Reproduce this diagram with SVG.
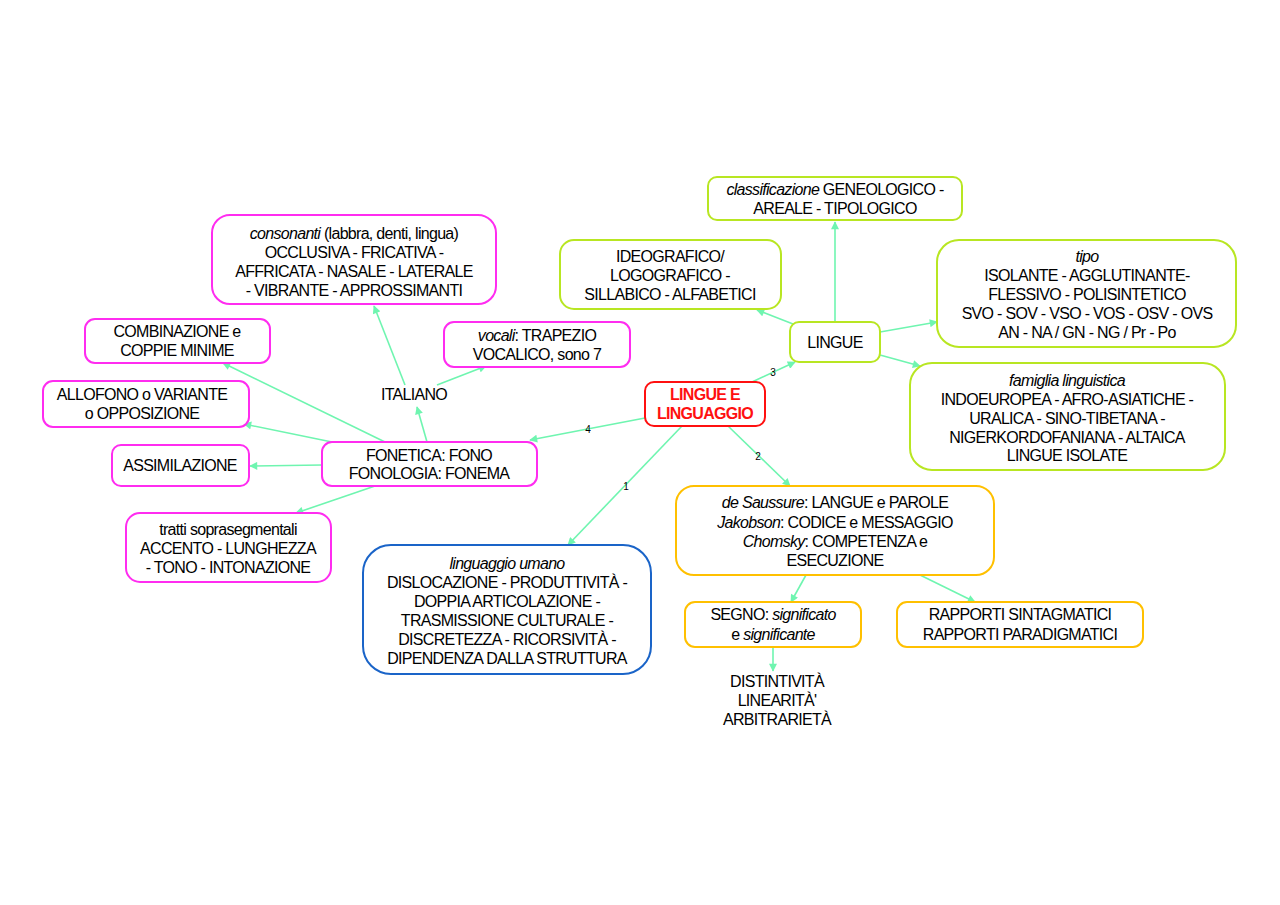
<svg xmlns="http://www.w3.org/2000/svg" width="1280" height="905" viewBox="0 0 1280 905">
<style>
text{font-family:"Liberation Sans",Arial,sans-serif;font-size:16px;fill:#000;text-anchor:middle;letter-spacing:-0.7px}
.g rect{fill:#fff;stroke:#b8e622;stroke-width:2}
.m rect{fill:#fff;stroke:#ff2cf0;stroke-width:2}
.o rect{fill:#fff;stroke:#ffc000;stroke-width:2}
.b rect{fill:#fff;stroke:#1a64c8;stroke-width:2}
.r rect{fill:#fff;stroke:#ff1010;stroke-width:2}
.e line{stroke:#6ff5b0;stroke-width:1.6;marker-end:url(#a)}
.l{font-size:10px;letter-spacing:0}
</style>
<defs><marker id="a" viewBox="0 0 10 10" refX="9" refY="5" markerWidth="10" markerHeight="8" orient="auto" markerUnits="userSpaceOnUse"><path d="M0,0L10,5L0,10z" fill="#6ff5b0"/></marker></defs>
<rect width="1280" height="905" fill="#fff"/>
<g id="edges" class="e">
<line x1="752" y1="382" x2="795" y2="362"/>
<line x1="645" y1="418" x2="530" y2="440"/>
<line x1="682" y1="426" x2="568" y2="545"/>
<line x1="728" y1="426" x2="790" y2="486"/>
<line x1="835" y1="322" x2="835" y2="222"/>
<line x1="793" y1="324" x2="757" y2="310"/>
<line x1="880" y1="332" x2="937" y2="322"/>
<line x1="880" y1="355" x2="920" y2="366"/>
<line x1="427" y1="442" x2="417" y2="407"/>
<line x1="405" y1="385" x2="374" y2="306"/>
<line x1="437" y1="385" x2="486" y2="366"/>
<line x1="385" y1="442" x2="223" y2="363"/>
<line x1="332" y1="442" x2="244" y2="424"/>
<line x1="322" y1="465" x2="250" y2="466"/>
<line x1="375" y1="486" x2="296" y2="513"/>
<line x1="806" y1="575" x2="791" y2="602"/>
<line x1="920" y1="575" x2="975" y2="602"/>
<line x1="773" y1="647" x2="773" y2="671"/>
</g>
<g id="edgelabels">
<text class="l" x="773" y="376">3</text>
<text class="l" x="588" y="433">4</text>
<text class="l" x="626" y="490">1</text>
<text class="l" x="758" y="460">2</text>
</g>
<g id="center" class="r"><rect x="645" y="382" width="120" height="44" rx="9"/><text x="705" y="400" style="fill:#ff1010;font-weight:bold">LINGUE E</text><text x="705" y="419" style="fill:#ff1010;font-weight:bold">LINGUAGGIO</text></g>
<g id="lingue" class="g"><rect x="790" y="322" width="90" height="40" rx="9"/><text x="835" y="348">LINGUE</text></g>
<g id="classif" class="g"><rect x="708" y="177" width="254" height="43" rx="9"/><text x="835" y="195"><tspan font-style="italic">classificazione</tspan> GENEOLOGICO -</text><text x="835" y="214">AREALE - TIPOLOGICO</text></g>
<g id="ideo" class="g"><rect x="560" y="240" width="221" height="69" rx="14"/><text x="670" y="262">IDEOGRAFICO/</text><text x="670" y="281">LOGOGRAFICO -</text><text x="670" y="300">SILLABICO - ALFABETICI</text></g>
<g id="tipo" class="g"><rect x="937" y="240" width="299" height="107" rx="22"/><text x="1087" y="262" font-style="italic">tipo</text><text x="1087" y="281">ISOLANTE - AGGLUTINANTE-</text><text x="1087" y="300">FLESSIVO  - POLISINTETICO</text><text x="1087" y="319">SVO - SOV - VSO - VOS - OSV - OVS</text><text x="1087" y="338">AN - NA / GN - NG / Pr - Po</text></g>
<g id="famiglia" class="g"><rect x="910" y="363" width="315" height="107" rx="22"/><text x="1067" y="386" font-style="italic">famiglia linguistica</text><text x="1067" y="405">INDOEUROPEA - AFRO-ASIATICHE -</text><text x="1067" y="424">URALICA - SINO-TIBETANA -</text><text x="1067" y="443">NIGERKORDOFANIANA - ALTAICA</text><text x="1067" y="461">LINGUE ISOLATE</text></g>
<g id="consonanti" class="m"><rect x="212" y="215" width="284" height="89" rx="18"/><text x="354" y="239"><tspan font-style="italic">consonanti</tspan> (labbra, denti, lingua)</text><text x="354" y="258">OCCLUSIVA - FRICATIVA -</text><text x="354" y="277">AFFRICATA - NASALE - LATERALE</text><text x="354" y="296">- VIBRANTE - APPROSSIMANTI</text></g>
<g id="vocali" class="m"><rect x="444" y="322" width="186" height="45" rx="10"/><text x="537" y="341"><tspan font-style="italic">vocali</tspan>: TRAPEZIO</text><text x="537" y="360">VOCALICO, sono 7</text></g>
<g id="italiano"><text x="414" y="400">ITALIANO</text></g>
<g id="combinazione" class="m"><rect x="85" y="319" width="185" height="44" rx="10"/><text x="177" y="337">COMBINAZIONE e</text><text x="177" y="356">COPPIE MINIME</text></g>
<g id="allofono" class="m"><rect x="43" y="381" width="206" height="46" rx="10"/><text x="142" y="400">ALLOFONO o VARIANTE</text><text x="142" y="419">o OPPOSIZIONE</text></g>
<g id="assimilazione" class="m"><rect x="112" y="445" width="137" height="41" rx="9"/><text x="180" y="471">ASSIMILAZIONE</text></g>
<g id="fonetica" class="m"><rect x="322" y="442" width="215" height="44" rx="10"/><text x="429" y="461">FONETICA: FONO</text><text x="429" y="479">FONOLOGIA: FONEMA</text></g>
<g id="tratti" class="m"><rect x="126" y="513" width="205" height="69" rx="14"/><text x="228" y="535">tratti soprasegmentali</text><text x="228" y="554">ACCENTO - LUNGHEZZA</text><text x="228" y="573">- TONO - INTONAZIONE</text></g>
<g id="linguaggio" class="b"><rect x="363" y="545" width="288" height="129" rx="28"/><text x="507" y="569" font-style="italic">linguaggio umano</text><text x="507" y="588">DISLOCAZIONE - PRODUTTIVITÀ -</text><text x="507" y="607">DOPPIA ARTICOLAZIONE -</text><text x="507" y="626">TRASMISSIONE CULTURALE -</text><text x="507" y="645">DISCRETEZZA - RICORSIVITÀ -</text><text x="507" y="664">DIPENDENZA DALLA STRUTTURA</text></g>
<g id="saussure" class="o"><rect x="676" y="486" width="318" height="89" rx="18"/><text x="835" y="508"><tspan font-style="italic">de Saussure</tspan>: LANGUE e PAROLE</text><text x="835" y="528"><tspan font-style="italic">Jakobson</tspan>: CODICE e MESSAGGIO</text><text x="835" y="547"><tspan font-style="italic">Chomsky</tspan>: COMPETENZA e</text><text x="835" y="566">ESECUZIONE</text></g>
<g id="segno" class="o"><rect x="685" y="602" width="176" height="45" rx="10"/><text x="773" y="620">SEGNO: <tspan font-style="italic">significato</tspan></text><text x="773" y="640">e <tspan font-style="italic">significante</tspan></text></g>
<g id="rapporti" class="o"><rect x="897" y="602" width="246" height="45" rx="10"/><text x="1020" y="620">RAPPORTI SINTAGMATICI</text><text x="1020" y="640">RAPPORTI PARADIGMATICI</text></g>
<g id="distintivita"><text x="777" y="687">DISTINTIVITÀ</text><text x="777" y="706">LINEARITÀ'</text><text x="777" y="725">ARBITRARIETÀ</text></g>
</svg>
